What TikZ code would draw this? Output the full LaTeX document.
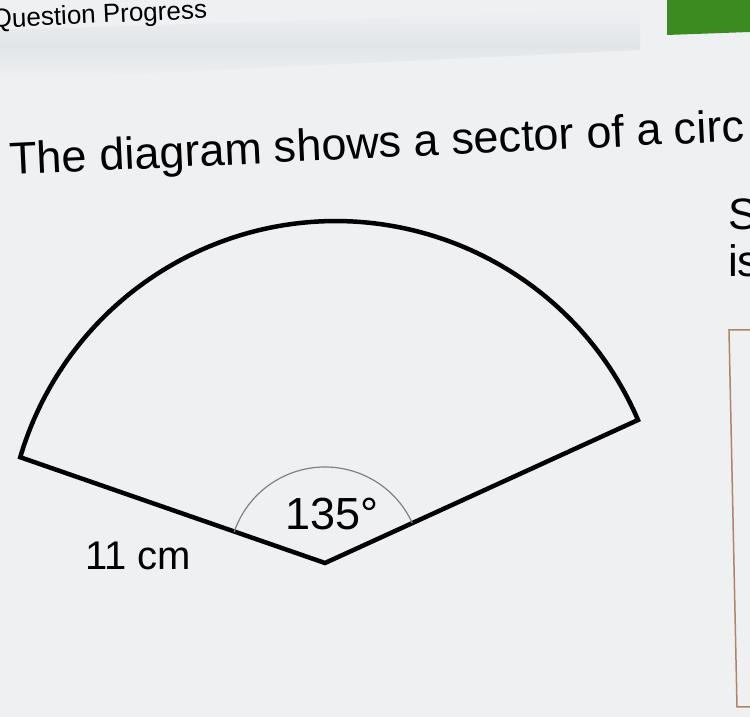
\documentclass[tikz,border=0pt]{standalone}
\usepackage{fontspec}
\setmainfont{Liberation Sans}

\definecolor{paper}{RGB}{238,240,242}
\definecolor{shadow}{RGB}{226,229,232}
\definecolor{barfill}{RGB}{58,140,32}
\definecolor{boxedge}{RGB}{176,132,104}

\begin{document}
\begin{tikzpicture}[x=1pt,y=1pt,
	sector/.style={line width=4.5pt,line join=miter},
	anglemark/.style={line width=1.2pt,gray},
	label/.style={inner sep=0pt,anchor=base west}]
\clip (0,0) rectangle (750,717);
\fill[paper] (0,0) rectangle (750,717);
\shade[top color=paper,bottom color=paper,middle color=shadow] (0,637) -- (640,667) -- (640,707) -- (0,687) -- cycle;
\fill[barfill] (667,717) -- (750,717) -- (750,685) -- (667,682) -- cycle;
% page texts
\node[label,font=\fontsize{26}{30}\selectfont,rotate=2.6]	(progress)	at (-8,689)	{Question Progress};
\node[label,font=\fontsize{45}{50}\selectfont,rotate=2.65]	(intro)	at (10,542)	{The diagram shows a sector of a circ};
\node[label,font=\fontsize{44}{50}\selectfont]	(side1)	at (728,487)	{S};
\node[label,font=\fontsize{44}{50}\selectfont]	(side2)	at (728,440)	{is};
\draw[boxedge,line width=1.5pt] (750,387) -- (729,387) -- (737,10) -- (750,10);
% the sector
\coordinate (O) at (325,154);
\coordinate (B) at (638,297);
\draw[sector] (O) -- (B) arc[start angle=23.3,end angle=163.6,radius=329] coordinate (A) -- cycle;
\draw[anglemark] ([shift={(24.6:96)}]O) arc[start angle=24.6,end angle=161.3,radius=96];
\node[label,font=\fontsize{40}{46}\selectfont]	(radius)	at (85,147)	{11 cm};
\node[label,font=\fontsize{45}{50}\selectfont]	(angle)	at (285,187)	{135°};
\end{tikzpicture}
\end{document}
